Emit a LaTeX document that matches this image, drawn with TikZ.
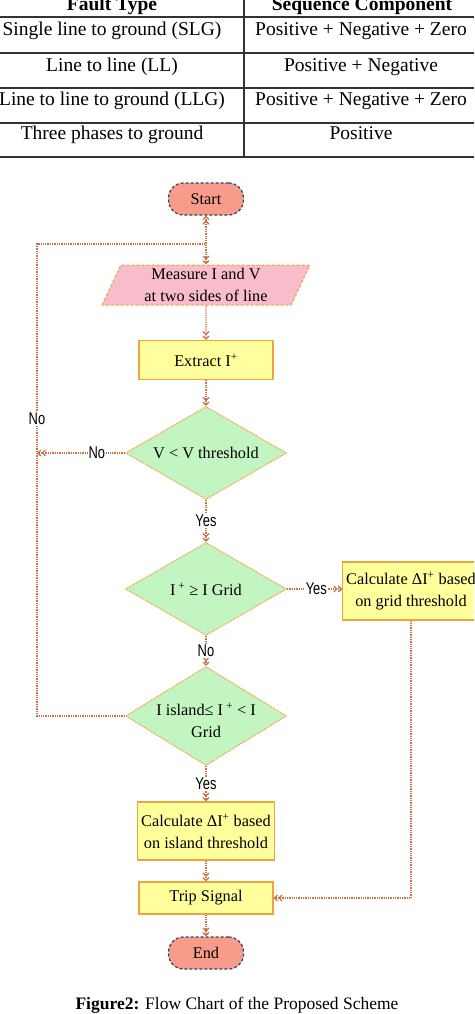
\documentclass[tikz,border=0pt]{standalone}
\usepackage{fontspec}
\usepackage{graphicx}
\setmainfont{Liberation Serif}
\newfontfamily\labfont{Liberation Sans}
\usetikzlibrary{arrows.meta,shapes.geometric}
\definecolor{FlowLine}{HTML}{CC7048}
\definecolor{BoxEdge}{HTML}{F0A23C}
\definecolor{TermEdge}{HTML}{3A3A70}
\definecolor{TermFill}{HTML}{F89C8A}
\definecolor{InFill}{HTML}{F9BCCB}
\definecolor{ProcFill}{HTML}{FFFF9C}
\definecolor{DecFill}{HTML}{C2F5C2}
\newcommand{\tabsize}{\fontsize{19.5}{23}\selectfont}
\newcommand{\flowsize}{\fontsize{16.3}{22}\selectfont}
\newcommand{\capsize}{\fontsize{17.5}{21}\selectfont}
\newcommand{\labsize}{\fontsize{17}{19}\selectfont}
\newcommand{\yn}[1]{\scalebox{0.76}[1]{#1}}

\begin{document}
\begin{tikzpicture}[x=1pt,y=-1pt,
  barbtip/.tip={Straight Barb[length=3pt,width=6pt]Straight Barb[length=3pt,width=6pt]},
  >=barbtip,
  tabline/.style={draw=black!80,line width=1.4pt},
  flow/.style={draw=FlowLine,densely dotted,line width=1.3pt},
  term/.style={draw=TermEdge,densely dashed,line width=1.2pt,fill=TermFill,rounded corners=15pt,
    minimum width=75,minimum height=32,font=\flowsize},
  inbox/.style={trapezium,trapezium left angle=68,trapezium right angle=112,trapezium stretches=true,
    draw=BoxEdge,densely dashed,line width=1pt,fill=InFill,minimum width=208,minimum height=40,
    inner sep=0pt,align=center,font=\flowsize},
  proc/.style={draw=BoxEdge,line width=1.1pt,fill=ProcFill,minimum width=134,align=center,font=\flowsize},
  dec/.style={diamond,draw=BoxEdge,densely dotted,line width=1.1pt,fill=DecFill,inner sep=0pt,
    minimum width=161,minimum height=93},
  dectext/.style={align=center,font=\flowsize},
  lab/.style={fill=white,inner sep=1pt,font=\labfont\labsize}]
  \useasboundingbox (0,0) rectangle (474,1014);
  \clip (0,0) rectangle (474,1014);

  % table of fault types
  \foreach \y in {17,53,88,123,157}
    \draw[tabline] (0,\y) -- (474,\y);
  \draw[tabline] (244,0) -- (244,157);
  \node[anchor=base,font=\tabsize\bfseries] (hfault) at (112,10.5) {Fault Type};
  \node[anchor=base,font=\tabsize\bfseries] (hseq) at (362,10.5) {Sequence Component};
  \foreach \fault/\seq/\y [count=\i] in {
    {Single line to ground (SLG)}/{Positive + Negative + Zero}/36,
    {Line to line (LL)}/{Positive + Negative}/71.5,
    {Line to line to ground (LLG)}/{Positive + Negative + Zero}/106,
    {Three phases to ground}/{Positive}/139.5}
  {
    \node[anchor=base,font=\tabsize] (fault\i) at (112,\y) {\fault};
    \node[anchor=base,font=\tabsize] (seq\i) at (361,\y) {\seq};
  }

  % flow chart
  \node[term] (start) at (206,199) {Start};
  \node[inbox] (measure) at (206,285) {Measure I and V\\at two sides of line};
  \node[proc,minimum height=39] (extract) at (206,360) {Extract I\textsuperscript{+}};
  \node[dec] (vcheck) at (206,453) {};
  \node[dectext] (vtext) at (vcheck.center) {V < V threshold};
  \node[dec] (gridcheck) at (206,589) {};
  \node[dectext] (gridtext) at (vcheck.center |- gridcheck.center) {I\textsuperscript{ +} ≥ I Grid};
  \node[dec,minimum height=99] (islandcheck) at (206,716) {};
  \node[dectext] (islandtext) at (206,720) {I island≤ I\textsuperscript{ +} < I\\Grid};
  \node[proc,minimum height=58] (gridcalc) at (411,591) {Calculate ΔI\textsuperscript{+} based\\on grid threshold};
  \node[proc,minimum height=58] (islandcalc) at (206,831) {Calculate ΔI\textsuperscript{+} based\\on island threshold};
  \node[proc,minimum height=32] (trip) at (206,898) {Trip Signal};
  \node[term] (end) at (206,953) {End};

  \coordinate (join) at (206,244);
  \coordinate (lefttop) at (37,244);
  \coordinate (leftbot) at (37,716);
  \coordinate (leftno) at (37,453);

  \draw[flow,<->] (start) -- (measure);
  \draw[flow,->] (measure) -- (extract);
  \draw[flow,->] (extract) -- (vcheck);
  \draw[flow,->] (vcheck.west) -- node[lab,pos=0.32] {\yn{No}} (leftno);
  \draw[flow,->] (vcheck) -- node[lab] {\yn{Yes}} (gridcheck);
  \draw[flow,->] (gridcheck) -- node[lab,pos=0.53] {\yn{Yes}} (gridcalc.west |- gridcheck);
  \draw[flow,->] (gridcheck) -- node[lab] {\yn{No}} (islandcheck);
  \draw[flow,->] (islandcheck) -- node[lab] {\yn{Yes}} (islandcalc);
  \draw[flow] (islandcheck.west) -- (leftbot) -- node[lab,pos=0.63] {\yn{No}} (lefttop) -- (join);
  \draw[flow,->] (islandcalc) -- (trip);
  \draw[flow,->] (gridcalc) |- (trip);
  \draw[flow,->] (trip) -- (end);

  \node[anchor=base,font=\capsize] (caption) at (237,1009) {\textbf{Figure2:} Flow Chart of the Proposed Scheme};
\end{tikzpicture}
\end{document}
